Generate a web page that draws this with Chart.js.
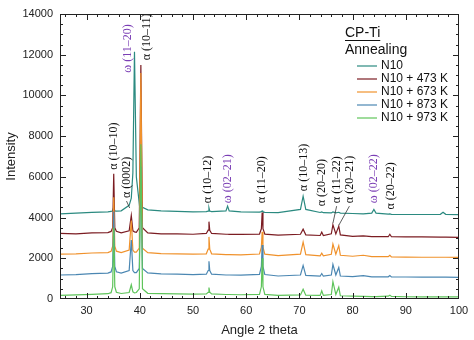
<!DOCTYPE html>
<html>
<head>
<meta charset="utf-8">
<script src="https://cdn.jsdelivr.net/npm/chart.js@4.4.0/dist/chart.umd.min.js"></script>
<style>
  html, body { margin: 0; padding: 0; background: #fff; }
  #wrap { width: 474px; height: 340px; }
</style>
</head>
<body>
<div id="wrap"><canvas id="xrd"></canvas></div>
<script>
// 2theta positions sampled for all patterns (baseline points + peak shoulders/tops)
const angles = [25, 28, 31, 34, 34.6, 34.9, 35.1, 35.3, 35.6, 36.5, 38.0, 38.4, 38.7, 39.0, 39.35, 39.9, 40.2, 40.5,
  41.5, 44, 47, 50, 52.5, 52.85, 53.0, 53.15, 53.5, 56.2, 56.5, 56.8, 59, 62.5, 62.85, 63.0, 63.15, 63.5, 66, 70.2, 70.7, 71.2,
  73.9, 74.2, 74.5, 76.0, 76.3, 76.85, 77.4, 77.7, 80, 82, 83.6, 84.0, 84.4, 86.7, 87.0, 87.3,
  90, 93, 96.5, 97, 97.5, 100];

const n10 = [4180, 4220, 4260, 4280, 4300, 4330, 4520, 4330, 4320, 4330, 4600, 4950, 6200, 12150, 6000, 4700, 5050, 4500,
  4380, 4330, 4300, 4280, 4290, 4320, 4480, 4320, 4290, 4330, 4560, 4330, 4280, 4270, 4290, 4330, 4280, 4260, 4240, 4400, 5050, 4400,
  4250, 4280, 4240, 4230, 4280, 4230, 4260, 4220, 4200, 4180, 4220, 4400, 4220, 4170, 4180, 4160,
  4150, 4150, 4160, 4260, 4160, 4140];

const n473 = [3220, 3200, 3250, 3260, 3320, 3500, 6150, 3500, 3330, 3250, 3350, 4100, 3350, 3300, 3280, 3500, 11500, 3500,
  3250, 3200, 3200, 3180, 3220, 3380, 3800, 3380, 3220, 3180, 3180, 3170, 3170, 3190, 3450, 4250, 3450, 3190, 3140, 3180, 3430, 3150,
  3120, 3280, 3120, 3200, 3650, 3200, 3580, 3150, 3080, 3100, 3060, 3060, 3060, 3060, 3180, 3060,
  3050, 3050, 3040, 3040, 3040, 3030];

const n673 = [2200, 2220, 2260, 2280, 2340, 2600, 5000, 2600, 2350, 2280, 2400, 3850, 2400, 2300, 2300, 2500, 11100, 2500,
  2280, 2230, 2220, 2200, 2220, 2450, 3050, 2450, 2220, 2180, 2180, 2180, 2170, 2210, 2550, 3300, 2550, 2200, 2130, 2200, 2800, 2180,
  2120, 2250, 2120, 2200, 2700, 2200, 2620, 2150, 2100, 2150, 2080, 2080, 2080, 2080, 2150, 2070,
  2060, 2050, 2050, 2050, 2050, 2040];

const n873 = [1180, 1200, 1250, 1270, 1330, 1600, 4300, 1600, 1340, 1270, 1400, 2900, 1400, 1300, 1300, 1500, 6500, 1500,
  1280, 1230, 1220, 1200, 1220, 1400, 1850, 1400, 1220, 1180, 1180, 1180, 1170, 1210, 1600, 2650, 1600, 1200, 1130, 1180, 1650, 1160,
  1120, 1250, 1120, 1180, 1700, 1180, 1550, 1130, 1100, 1150, 1090, 1090, 1090, 1090, 1150, 1080,
  1080, 1070, 1070, 1070, 1070, 1060];

const n973 = [180, 200, 230, 260, 310, 600, 3500, 600, 330, 270, 320, 700, 350, 300, 320, 500, 7600, 500,
  280, 260, 250, 240, 250, 330, 560, 330, 250, 220, 220, 220, 210, 230, 600, 2000, 600, 230, 180, 200, 480, 190,
  180, 400, 180, 220, 850, 220, 580, 160, 140, 130, 120, 120, 120, 140, 190, 130,
  110, 100, 100, 100, 100, 100];

const seriesNames = ['N10', 'N10 + 473 K', 'N10 + 673 K', 'N10 + 873 K', 'N10 + 973 K'];
const seriesValues = [n10, n473, n673, n873, n973];
const seriesColors = ['#2b8a80', '#7b1c22', '#f0922c', '#4b87b2', '#5ec45a'];

const xTickValues = [30, 40, 50, 60, 70, 80, 90, 100];
const yTickValues = [0, 2000, 4000, 6000, 8000, 10000, 12000, 14000];

// peak annotations: text, angle of text, intensity where the text starts, optional leader target
const peakNames = ['α (10–10)', 'α (0002)', 'ω (11–20)', 'α (10–11)', 'α (10–12)', 'ω (02–21)',
  'α (11–20)', 'α (10–13)', 'α (20–20)', 'α (11–22)', 'α (20–21)', 'ω (02–22)', 'α (20–22)'];
const peakTextAngles = [35.1, 37.5, 37.7, 41.3, 52.8, 56.6, 63.0, 70.75, 74.2, 77.0, 79.4, 84.0, 87.2];
const peakTextStart = [6250, 4860, 11020, 11630, 4610, 4610, 4610, 5200, 4460, 4610, 4610, 4610, 4300];
const peakLeaders = [null, [38.1, 4470], null, null, null, null, null, null, null, [76.3, 3720], [77.4, 3620], null, null];
const omegaColor = '#7b3fb5';

const datasets = seriesNames.map((name, i) => ({
  label: name,
  data: angles.map((a, k) => ({ x: a, y: seriesValues[i][k] })),
  borderColor: seriesColors[i],
  borderWidth: 1.2,
  pointRadius: 0,
  tension: 0,
  order: seriesNames.length - i
}));

const peakLabels = {
  id: 'peakLabels',
  afterDatasetsDraw(chart) {
    const { ctx, scales: { x, y } } = chart;
    ctx.save();
    ctx.font = '12px "Liberation Serif", "DejaVu Serif", serif';
    ctx.textAlign = 'left';
    ctx.textBaseline = 'middle';
    peakNames.forEach((txt, i) => {
      const px = x.getPixelForValue(peakTextAngles[i]);
      const py = y.getPixelForValue(peakTextStart[i]);
      const col = txt.startsWith('ω') ? omegaColor : '#111';
      if (peakLeaders[i]) {
        ctx.strokeStyle = '#333';
        ctx.lineWidth = 0.8;
        ctx.beginPath();
        ctx.moveTo(px, py + 1);
        ctx.lineTo(x.getPixelForValue(peakLeaders[i][0]), y.getPixelForValue(peakLeaders[i][1]));
        ctx.stroke();
      }
      ctx.save();
      ctx.translate(px, py);
      ctx.rotate(-Math.PI / 2);
      ctx.fillStyle = col;
      ctx.fillText(txt, 2, 0);
      ctx.restore();
    });
    ctx.restore();
  }
};

const insetLegend = {
  id: 'insetLegend',
  afterDraw(chart) {
    const { ctx, chartArea: a } = chart;
    const left = a.right - 114;
    ctx.save();
    ctx.fillStyle = '#111';
    ctx.textAlign = 'left';
    ctx.textBaseline = 'middle';
    ctx.font = '14px "Liberation Sans", Arial, sans-serif';
    ctx.fillText('CP-Ti', left, a.top + 19);
    const w = ctx.measureText('CP-Ti').width;
    ctx.fillRect(left, a.top + 26, w, 1);
    ctx.fillText('Annealing', left, a.top + 36);
    ctx.font = '12px "Liberation Sans", Arial, sans-serif';
    seriesNames.forEach((name, i) => {
      const yy = a.top + 52 + i * 13;
      ctx.strokeStyle = seriesColors[i];
      ctx.lineWidth = 1.2;
      ctx.beginPath();
      ctx.moveTo(left + 12, yy);
      ctx.lineTo(left + 32, yy);
      ctx.stroke();
      ctx.fillStyle = '#111';
      ctx.fillText(name, left + 36, yy);
    });
    ctx.restore();
  }
};

const frameTicks = {
  id: 'frameTicks',
  afterDraw(chart) {
    const { ctx, chartArea: a, scales: { x, y } } = chart;
    ctx.save();
    ctx.strokeStyle = '#222';
    ctx.lineWidth = 1;
    ctx.strokeRect(Math.round(a.left) + 0.5, Math.round(a.top) + 0.5, Math.round(a.width) - 1, Math.round(a.height) - 1);
    ctx.beginPath();
    for (let v = 26; v < 100; v += 2) {
      const px = Math.round(x.getPixelForValue(v)) + 0.5;
      const len = v % 10 === 0 ? 6 : 3;
      ctx.moveTo(px, a.bottom); ctx.lineTo(px, a.bottom - len);
      ctx.moveTo(px, a.top); ctx.lineTo(px, a.top + len);
    }
    for (let v = 500; v < 14000; v += 500) {
      const py = Math.round(y.getPixelForValue(v)) + 0.5;
      const len = v % 2000 === 0 ? 6 : 3;
      ctx.moveTo(a.left, py); ctx.lineTo(a.left + len, py);
      ctx.moveTo(a.right, py); ctx.lineTo(a.right - len, py);
    }
    ctx.stroke();
    ctx.restore();
  }
};

new Chart(document.getElementById('xrd'), {
  type: 'line',
  data: { datasets },
  options: {
    responsive: true,
    maintainAspectRatio: false,
    animation: false,
    layout: { padding: { top: 14, right: 15, left: 0, bottom: 0 } },
    plugins: { legend: { display: false }, tooltip: { enabled: false } },
    scales: {
      x: {
        type: 'linear',
        min: 25,
        max: 100,
        grid: { display: false, drawTicks: false },
        border: { display: false },
        afterBuildTicks: s => { s.ticks = xTickValues.map(v => ({ value: v })); },
        afterFit: s => { s.height = 41; },
        ticks: { color: '#222', padding: 5, maxRotation: 0, callback: v => String(v), font: { family: '"Liberation Sans", Arial, sans-serif', size: 11 } },
        title: { display: true, text: 'Angle 2 theta', color: '#222', padding: { top: 0, bottom: 2 }, font: { family: '"Liberation Sans", Arial, sans-serif', size: 13 } }
      },
      y: {
        min: 0,
        max: 14000,
        grid: { display: false, drawTicks: false },
        border: { display: false },
        afterBuildTicks: s => { s.ticks = yTickValues.map(v => ({ value: v })); },
        afterFit: s => { s.width = 60; },
        ticks: { color: '#222', padding: 7, callback: v => String(v), font: { family: '"Liberation Sans", Arial, sans-serif', size: 11 } },
        title: { display: true, text: 'Intensity', color: '#222', padding: { top: 4, bottom: 2 }, font: { family: '"Liberation Sans", Arial, sans-serif', size: 13 } }
      }
    }
  },
  plugins: [peakLabels, insetLegend, frameTicks]
});
</script>
</body>
</html>
